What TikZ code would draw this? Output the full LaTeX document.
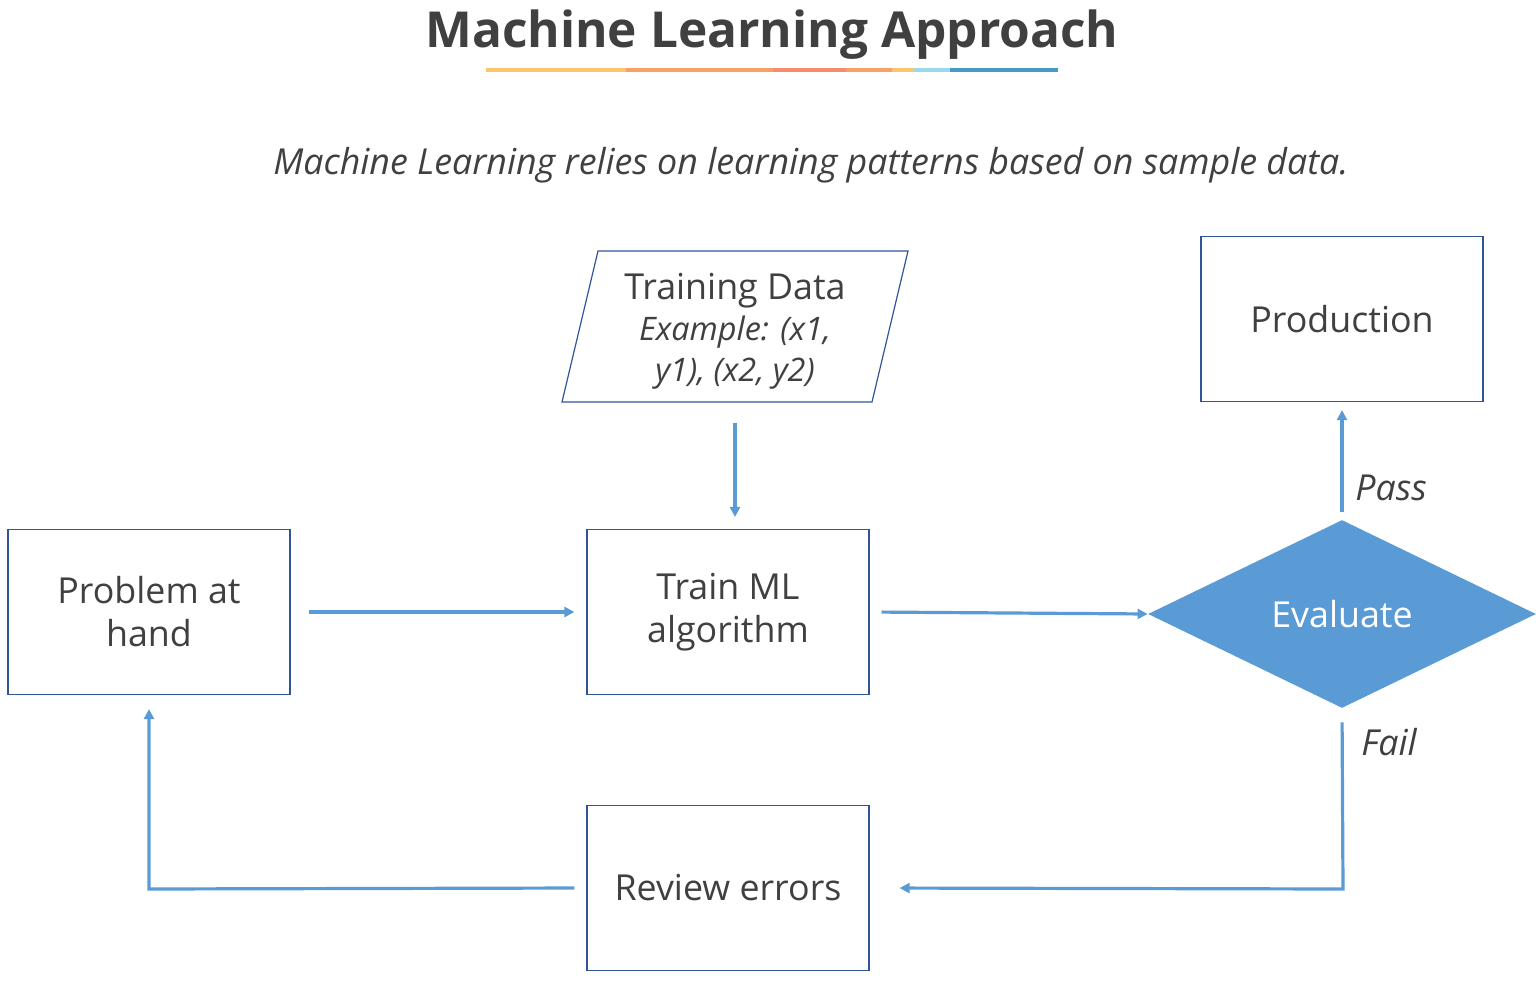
\documentclass[tikz,border=0pt]{standalone}
\usepackage{fontspec}
\setmainfont{Open Sans}
\usetikzlibrary{shapes.geometric,arrows.meta}
\definecolor{txt}{HTML}{404040}
\definecolor{edge}{HTML}{2F5597}
\definecolor{flow}{HTML}{5B9BD5}
\begin{document}
\begin{tikzpicture}[x=0.5pt,y=-0.5pt,
    box/.style={draw=edge, line width=0.6pt, text=txt, minimum width=141pt, minimum height=82.5pt,
      align=center, font=\fontsize{17.9}{21.5}\selectfont},
    flowline/.style={draw=flow, line width=1.6pt, -{Triangle[length=5pt,width=5pt]}},
    lbl/.style={text=txt, font=\fontsize{17.9}{20}\selectfont\itshape}]
    \useasboundingbox (0,0) rectangle (1536,983) ;
    % title and underline
    \node [text=txt, font=\fontsize{24.8}{30}\selectfont\bfseries] (title) at (772,35) {Machine Learning Approach} ;
    \foreach \a/\b/\c in {486/626/FCC46B, 626/773/F9A066, 773/846/F78C6C, 846/892/F9A066,
        892/914/FCC46B, 914/950/9DD7EB, 950/1058/4799C6} {
      \definecolor{seg}{HTML}{\c}
      \fill [seg] (\a,68) rectangle (\b,72) ;
    }
    \node [text=txt, font=\fontsize{17.9}{22}\selectfont\itshape] (sub) at (811,165)
      {Machine Learning relies on learning patterns based on sample data.} ;
    % boxes
    \node [box] (prob) at (149,612) {Problem at\\hand} ;
    \node [box] (train) at (728,612) {Train ML\\algorithm} ;
    \node [box] (review) at (728,888) {Review errors} ;
    \node [box] (prod) at (1342,319) {Production} ;
    \draw [edge, line width=0.6pt] (598,251) -- (908,251) -- (872,402) -- (562,402) -- cycle ;
    \node [text=txt, align=center, font=\fontsize{17.9}{20.5}\selectfont] (data) at (735,331)
      {Training Data\\{\fontsize{16.2}{20.5}\selectfont\itshape Example: (x1,}\\
       {\fontsize{16.2}{20.5}\selectfont\itshape y1), (x2, y2)}} ;
    \node [diamond, fill=flow, inner sep=0pt, minimum width=194pt, minimum height=94pt,
      aspect=2.06, text=white, font=\fontsize{17.9}{20}\selectfont] (eval) at (1342,614) {Evaluate} ;
    % connectors
    \coordinate (dtop) at (735,423) ;
    \coordinate (dbot) at (735,517) ;
    \coordinate (fbend) at (1343,889) ;
    \coordinate (rbend) at (149,889) ;
    \draw [flowline] (dtop) -- (dbot) ;
    \draw [flowline, shorten <=9pt, shorten >=6pt] (prob.east) -- (train.west) ;
    \draw [flowline, shorten <=6pt] (train.east) -- (eval.west) ;
    \draw [flowline, shorten <=4pt, shorten >=4pt] (eval.north) -- (prod.south) ;
    \node [lbl] (pass) at (1391,488) {Pass} ;
    \draw [flowline, shorten <=7pt, shorten >=15pt] (eval.south) -- (fbend) -- (review.east) ;
    \node [lbl] (fail) at (1389,742) {Fail} ;
    \draw [flowline, shorten <=6pt, shorten >=7pt] (review.west) -- (rbend) -- (prob.south) ;
\end{tikzpicture}
\end{document}
